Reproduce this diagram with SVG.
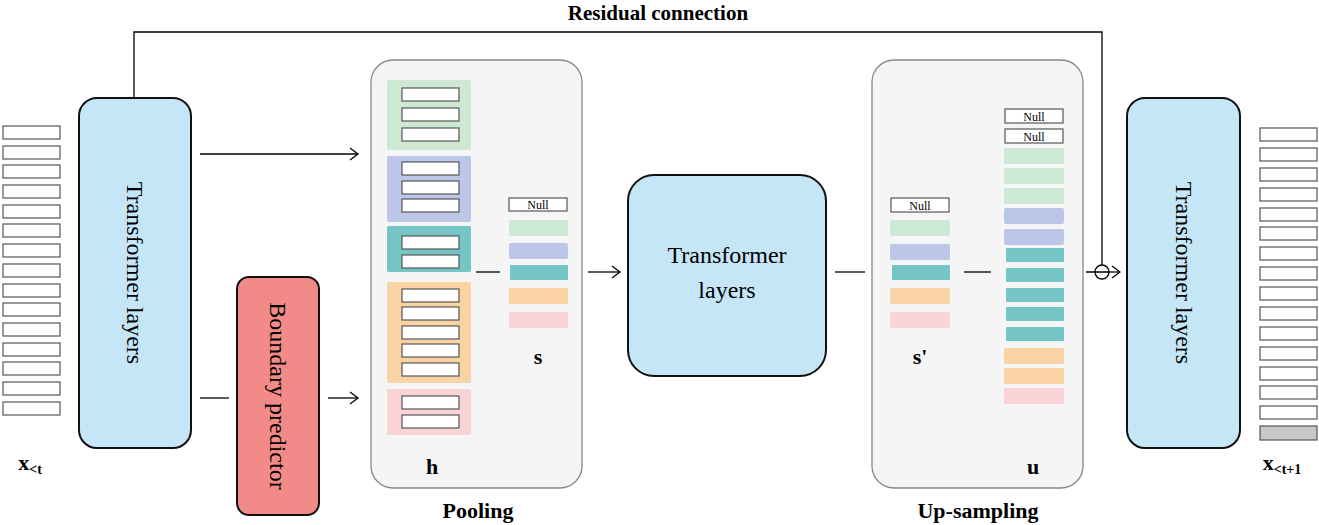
<svg xmlns="http://www.w3.org/2000/svg" width="1319" height="525" viewBox="0 0 1319 525">
<style>
text{font-family:"Liberation Serif",serif;fill:#000}
.b{font-weight:bold}
.tf{fill:#c5e6f6;stroke:#111;stroke-width:2}
.panel{fill:#f5f5f5;stroke:#888;stroke-width:1.3}
.tok{fill:#fff;stroke:#555;stroke-width:1.2}
.g{fill:#cde8d3}.bl{fill:#bcc6e8}.t{fill:#76c5c6}.o{fill:#f9d3a4}.p{fill:#f9d3d6}
.ln{stroke:#000;stroke-width:1.3;fill:none}
</style>
<defs>
<marker id="ar" markerWidth="10" markerHeight="14" refX="9" refY="7" orient="auto" markerUnits="userSpaceOnUse">
<path d="M1,1 L9,7 L1,13" fill="none" stroke="#000" stroke-width="1.3"/>
</marker>
</defs>
<text x="658" y="20" font-size="21" class="b" text-anchor="middle">Residual connection</text>
<g id="tokens-in">
<rect class="tok" x="3" y="126" width="57" height="13"/><rect class="tok" x="3" y="146" width="57" height="13"/><rect class="tok" x="3" y="165" width="57" height="13"/><rect class="tok" x="3" y="185" width="57" height="13"/><rect class="tok" x="3" y="205" width="57" height="13"/><rect class="tok" x="3" y="224" width="57" height="13"/><rect class="tok" x="3" y="244" width="57" height="13"/><rect class="tok" x="3" y="264" width="57" height="13"/><rect class="tok" x="3" y="284" width="57" height="13"/><rect class="tok" x="3" y="303" width="57" height="13"/><rect class="tok" x="3" y="323" width="57" height="13"/><rect class="tok" x="3" y="343" width="57" height="13"/><rect class="tok" x="3" y="362" width="57" height="13"/><rect class="tok" x="3" y="382" width="57" height="13"/><rect class="tok" x="3" y="402" width="57" height="13"/>
<text x="30" y="470" font-size="22" class="b" text-anchor="middle">x<tspan font-size="14" dy="4">&lt;t</tspan></text>
</g>
<g id="tf-left"><rect class="tf" x="79" y="98" width="112" height="350" rx="18"/>
<text transform="translate(135,273) rotate(90)" font-size="24" text-anchor="middle" dy="8">Transformer layers</text></g>
<g id="boundary"><rect x="237" y="277" width="82" height="238" rx="12" fill="#f28b88" stroke="#111" stroke-width="2"/>
<text transform="translate(278,396) rotate(90)" font-size="24" text-anchor="middle" dy="8">Boundary predictor</text></g>
<g id="pooling">
<rect class="panel" x="371" y="60" width="211" height="428" rx="22"/>
<rect class="g" x="387" y="80" width="84" height="70" rx="2"/><rect class="bl" x="387" y="156" width="84" height="66" rx="2"/><rect class="t" x="387" y="226" width="84" height="46" rx="2"/><rect class="o" x="387" y="282" width="84" height="101" rx="2"/><rect class="p" x="387" y="389" width="84" height="46" rx="2"/>
<rect class="tok" x="402" y="88" width="57" height="13"/><rect class="tok" x="402" y="108" width="57" height="13"/><rect class="tok" x="402" y="128" width="57" height="13"/>
<rect class="tok" x="402" y="162" width="57" height="13"/><rect class="tok" x="402" y="181" width="57" height="13"/><rect class="tok" x="402" y="199" width="57" height="13"/>
<rect class="tok" x="402" y="236" width="57" height="13"/><rect class="tok" x="402" y="255" width="57" height="13"/>
<rect class="tok" x="402" y="289" width="57" height="13"/><rect class="tok" x="402" y="307" width="57" height="13"/><rect class="tok" x="402" y="326" width="57" height="13"/><rect class="tok" x="402" y="344" width="57" height="13"/><rect class="tok" x="402" y="363" width="57" height="13"/>
<rect class="tok" x="402" y="396" width="57" height="13"/><rect class="tok" x="402" y="415" width="57" height="13"/>
<rect class="tok" x="509" y="198" width="58" height="13"/><text x="538" y="209" font-size="12" text-anchor="middle">Null</text>
<rect class="g" x="509" y="220" width="59" height="16" rx="2"/><rect class="bl" x="509" y="243" width="59" height="16" rx="2"/><rect class="t" x="510" y="265" width="58" height="15" rx="1"/><rect class="o" x="509" y="288" width="59" height="16" rx="2"/><rect class="p" x="509" y="312" width="59" height="16" rx="2"/>
<text x="538" y="364" font-size="22" class="b" text-anchor="middle">s</text>
<text x="432" y="474" font-size="22" class="b" text-anchor="middle">h</text>
<text x="478" y="518" font-size="22" class="b" text-anchor="middle">Pooling</text>
</g>
<g id="tf-mid"><rect class="tf" x="628" y="175" width="198" height="201" rx="26"/>
<text x="727" y="263" font-size="24" text-anchor="middle">Transformer</text><text x="727" y="298" font-size="24" text-anchor="middle">layers</text></g>
<g id="upsampling">
<rect class="panel" x="872" y="60" width="211" height="428" rx="22"/>
<rect class="tok" x="891" y="198" width="58" height="14"/><text x="920" y="210" font-size="12" text-anchor="middle">Null</text>
<rect class="g" x="890" y="220" width="60" height="16" rx="2"/><rect class="bl" x="890" y="244" width="60" height="16" rx="2"/><rect class="t" x="892" y="265" width="58" height="15" rx="1"/><rect class="o" x="890" y="288" width="60" height="16" rx="2"/><rect class="p" x="890" y="312" width="60" height="16" rx="2"/>
<text x="920" y="364" font-size="22" class="b" text-anchor="middle">s'</text>
<rect class="tok" x="1005" y="109" width="58" height="14"/><text x="1034" y="121" font-size="12" text-anchor="middle">Null</text>
<rect class="tok" x="1005" y="129" width="58" height="14"/><text x="1034" y="141" font-size="12" text-anchor="middle">Null</text>
<rect class="g" x="1004" y="148" width="60" height="16" rx="2"/><rect class="g" x="1004" y="168" width="60" height="16" rx="2"/><rect class="g" x="1004" y="188" width="60" height="16" rx="2"/>
<rect class="bl" x="1004" y="208" width="60" height="16" rx="2"/><rect class="bl" x="1004" y="229" width="60" height="16" rx="2"/>
<rect class="t" x="1006" y="248" width="58" height="14" rx="1"/><rect class="t" x="1006" y="268" width="58" height="14" rx="1"/><rect class="t" x="1006" y="288" width="58" height="14" rx="1"/><rect class="t" x="1006" y="307" width="58" height="14" rx="1"/><rect class="t" x="1006" y="327" width="58" height="14" rx="1"/>
<rect class="o" x="1004" y="348" width="60" height="16" rx="2"/><rect class="o" x="1004" y="368" width="60" height="16" rx="2"/><rect class="p" x="1004" y="388" width="60" height="16" rx="2"/>
<text x="1033" y="474" font-size="22" class="b" text-anchor="middle">u</text>
<text x="978" y="518" font-size="22" class="b" text-anchor="middle">Up-sampling</text>
</g>
<g id="tf-right"><rect class="tf" x="1127" y="98" width="113" height="350" rx="18"/>
<text transform="translate(1184,273) rotate(90)" font-size="24" text-anchor="middle" dy="8">Transformer layers</text></g>
<g id="tokens-out">
<rect class="tok" x="1260" y="128" width="57" height="13"/><rect class="tok" x="1260" y="148" width="57" height="13"/><rect class="tok" x="1260" y="168" width="57" height="13"/><rect class="tok" x="1260" y="188" width="57" height="13"/><rect class="tok" x="1260" y="208" width="57" height="13"/><rect class="tok" x="1260" y="227" width="57" height="13"/><rect class="tok" x="1260" y="247" width="57" height="13"/><rect class="tok" x="1260" y="267" width="57" height="13"/><rect class="tok" x="1260" y="287" width="57" height="13"/><rect class="tok" x="1260" y="307" width="57" height="13"/><rect class="tok" x="1260" y="327" width="57" height="13"/><rect class="tok" x="1260" y="347" width="57" height="13"/><rect class="tok" x="1260" y="367" width="57" height="13"/><rect class="tok" x="1260" y="386" width="57" height="13"/><rect class="tok" x="1260" y="406" width="57" height="13"/><rect x="1260" y="426" width="57" height="14" fill="#c8c8c8" stroke="#555" stroke-width="1.2"/>
<text x="1282" y="470" font-size="22" class="b" text-anchor="middle">x<tspan font-size="14" dy="4">&lt;t+1</tspan></text>
</g>
<g id="connectors">
<path class="ln" d="M134,98 V32 H1102 V265"/>
<circle class="ln" cx="1102" cy="272" r="7"/>
<path class="ln" d="M1095,272 H1109 M1086,272 H1095"/>
<path class="ln" d="M1109,272 H1120" marker-end="url(#ar)"/>
<path class="ln" d="M200,154 H358" marker-end="url(#ar)"/>
<path class="ln" d="M200,398 H229"/>
<path class="ln" d="M328,398 H358" marker-end="url(#ar)"/>
<path class="ln" d="M476,272 H500"/>
<path class="ln" d="M588,272 H620" marker-end="url(#ar)"/>
<path class="ln" d="M835,272 H865"/>
<path class="ln" d="M964,272 H991"/>
</g>
</svg>
